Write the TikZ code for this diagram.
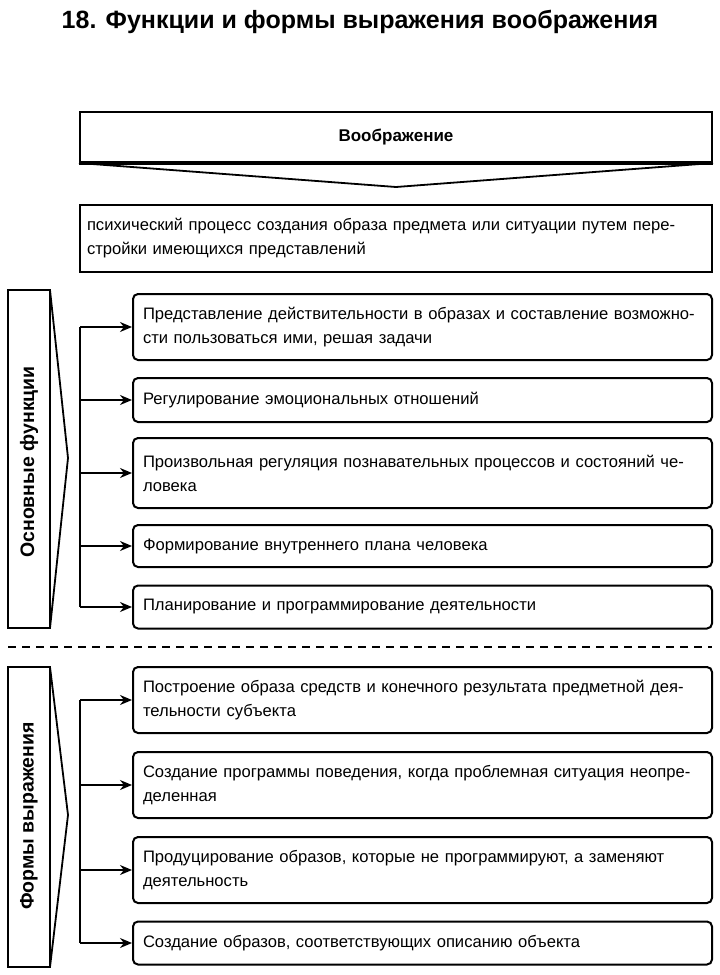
\documentclass[tikz,border=0pt]{standalone}
\usepackage{fontspec}
\setmainfont{Liberation Sans}
\usetikzlibrary{calc,arrows.meta}

\tikzset{
    itembox/.style={draw, rounded corners=5pt, line width=2pt,
        minimum width=579pt, text width=559pt, inner xsep=10pt,
        align=left, font=\fontsize{16.6}{24}\selectfont},
    link/.style={line width=1.5pt, -{Stealth[length=12pt,width=10pt]}},
    sidelabel/.style={rotate=90, font=\bfseries\fontsize{19.5}{20}\selectfont},
    chevron/.style={line width=1.8pt, line join=miter},
}

\begin{document}
\begin{tikzpicture}[x=1pt, y=1pt]
            \useasboundingbox (0, 0) rectangle (720, -975);

            \node [font=\bfseries\fontsize{25}{28}\selectfont]
                (title) at (360, -22) {18. Функции и формы выражения воображения};

            \node [draw, line width=2pt, minimum width=632pt, minimum height=50pt,
                font=\bfseries\fontsize{17}{18}\selectfont]
                (imag) at (396, -137) {Воображение};
            \draw [line width=1.8pt, line join=miter]
                (imag.south west) -- ($(imag.south) + (0, -24)$) -- (imag.south east);
            \draw [line width=3pt] (imag.south west) -- (imag.south east);

            \node [draw, line width=2pt, minimum width=632pt, minimum height=67pt,
                text width=618pt, inner xsep=7pt, align=left,
                font=\fontsize{16.6}{24}\selectfont]
                (def) at (396, -238.5) {психический процесс создания образа предмета или ситуации путем пере-\\стройки имеющихся представлений};

            % основные функции
            \draw [chevron] (8, -290) -- (50, -290) -- (68, -458) -- (50, -628) -- (8, -628) -- cycle;
            \draw [line width=2.6pt] (50, -290) -- (50, -628);
            \node [sidelabel] (func) at (29, -462) {Основные функции};

            \node [itembox, minimum height=66pt]
                (f1) at (422.5, -327) {Представление действительности в образах и составление возможно-\\сти пользоваться ими, решая задачи};
            \node [itembox, minimum height=44pt]
                (f2) at (422.5, -400) {Регулирование эмоциональных отношений};
            \node [itembox, minimum height=70pt]
                (f3) at (422.5, -473) {Произвольная регуляция познавательных процессов и состояний че-\\ловека};
            \node [itembox, minimum height=42pt]
                (f4) at (422.5, -546) {Формирование внутреннего плана человека};
            \node [itembox, minimum height=43pt]
                (f5) at (422.5, -607) {Планирование и программирование деятельности};

            \coordinate (fbus) at (80, -327);
            \draw [line width=1.5pt] (fbus |- f1.west) -- (fbus |- f5.west);
            \foreach \n in {f1, f2, f3, f4, f5}
                \draw [link] (fbus |- \n.west) -- (\n.west);

            \draw [dashed, line width=1.6pt, dash pattern=on 8pt off 6pt]
                (8, -647) -- (712, -647);

            % формы выражения
            \draw [chevron] (8, -667) -- (50, -667) -- (68, -815) -- (50, -967) -- (8, -967) -- cycle;
            \draw [line width=2.6pt] (50, -667) -- (50, -967);
            \node [sidelabel] (forms) at (29, -816) {Формы выражения};

            \node [itembox, minimum height=66pt]
                (e1) at (422.5, -700) {Построение образа средств и конечного результата предметной дея-\\тельности субъекта};
            \node [itembox, minimum height=66pt]
                (e2) at (422.5, -785) {Создание программы поведения, когда проблемная ситуация неопре-\\деленная};
            \node [itembox, minimum height=66pt]
                (e3) at (422.5, -870) {Продуцирование образов, которые не программируют, а заменяют\\деятельность};
            \node [itembox, minimum height=43pt]
                (e4) at (422.5, -943) {Создание образов, соответствующих описанию объекта};

            \coordinate (ebus) at (80, -700);
            \draw [line width=1.5pt] (ebus |- e1.west) -- (ebus |- e4.west);
            \foreach \n in {e1, e2, e3, e4}
                \draw [link] (ebus |- \n.west) -- (\n.west);
        \end{tikzpicture}
\end{document}
